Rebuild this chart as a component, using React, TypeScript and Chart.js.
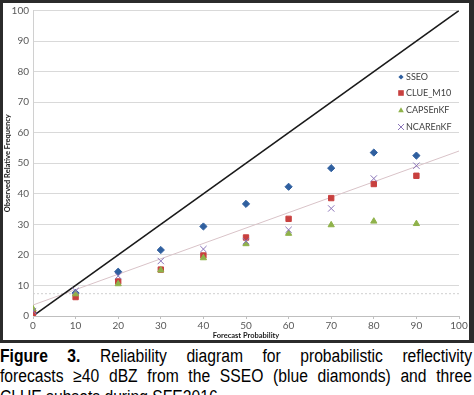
import React, { useEffect, useRef } from "react";
import { Chart, registerables } from "chart.js";

Chart.register(...registerables);

const probs = [0, 10, 20, 30, 40, 50, 60, 70, 80, 90];
const sseo = [1.0, 7.5, 14.5, 21.6, 29.3, 36.7, 42.3, 48.4, 53.5, 52.5];
const clueM10 = [1.0, 6.2, 11.3, 15.2, 19.8, 25.7, 31.8, 38.6, 43.2, 45.9];
const capsEnKF = [2.3, 7.2, 10.5, 15.0, 19.0, 23.6, 27.0, 29.8, 31.0, 30.2];
const ncarEnKF = [1.6, 8.2, 13.1, 18.0, 21.9, 24.5, 28.2, 35.2, 45.0, 49.2];
const diagX = [0, 100];
const diagY = [0, 100];
const trendX = [0, 100];
const trendY = [3.6, 54.0];
const climoY = 7.3;
const ticks = [0, 10, 20, 30, 40, 50, 60, 70, 80, 90, 100];

const seriesNames = ["SSEO", "CLUE_M10", "CAPSEnKF", "NCAREnKF"];
const captionLine1 = ["Figure", "3.", "Reliability", "diagram", "for", "probabilistic", "reflectivity"];
const captionLine2 = ["forecasts", "≥40", "dBZ", "from", "the", "SSEO", "(blue", "diamonds)", "and", "three"];
const captionLine3 = "CLUE subsets during SFE2016.";

const toPts = (xs: number[], ys: number[]) => xs.map((x, i) => ({ x, y: ys[i] }));

const legendPlugin = {
  id: "insideLegend",
  afterDraw(chart: any) {
    const ctx = chart.ctx;
    const x0 = 398;
    const rows = [74, 90, 107, 124];
    ctx.save();
    ctx.font = "9px Lato";
    ctx.textBaseline = "middle";
    [0, 1, 2, 3].forEach((di, i) => {
      const ds = chart.data.datasets[di];
      const y = rows[i];
      ctx.save();
      ctx.fillStyle = ds.backgroundColor;
      ctx.strokeStyle = ds.borderColor;
      ctx.lineWidth = 1;
      const r = 2.6;
      if (ds.pointStyle === "rectRot") {
        ctx.beginPath();
        ctx.moveTo(x0, y - r);
        ctx.lineTo(x0 + r, y);
        ctx.lineTo(x0, y + r);
        ctx.lineTo(x0 - r, y);
        ctx.closePath();
        ctx.fill();
      } else if (ds.pointStyle === "rect") {
        ctx.fillRect(x0 - 2.8, y - 2.8, 5.6, 5.6);
      } else if (ds.pointStyle === "triangle") {
        ctx.beginPath();
        ctx.moveTo(x0, y - 2.8);
        ctx.lineTo(x0 + 2.8, y + 2.2);
        ctx.lineTo(x0 - 2.8, y + 2.2);
        ctx.closePath();
        ctx.fill();
      } else {
        ctx.beginPath();
        ctx.moveTo(x0 - 3, y - 3);
        ctx.lineTo(x0 + 3, y + 3);
        ctx.moveTo(x0 + 3, y - 3);
        ctx.lineTo(x0 - 3, y + 3);
        ctx.stroke();
      }
      ctx.restore();
      ctx.fillStyle = "#404040";
      ctx.fillText(seriesNames[i], x0 + 5, y + 0.5);
    });
    ctx.restore();
  },
};

export default function App() {
  const ref = useRef<HTMLCanvasElement>(null);
  useEffect(() => {
    if (!ref.current) return;
    const chart = new Chart(ref.current, {
      type: "scatter",
      data: {
        datasets: [
          {
            label: "SSEO",
            data: toPts(probs, sseo),
            pointStyle: "rectRot",
            pointRadius: 3.6,
            backgroundColor: "#2f5f9f",
            borderColor: "#2f5f9f",
            borderWidth: 1,
            order: 4,
          },
          {
            label: "CLUE_M10",
            data: toPts(probs, clueM10),
            pointStyle: "rect",
            pointRadius: 3.8,
            backgroundColor: "#c8403f",
            borderColor: "#c8403f",
            borderWidth: 1,
            order: 3,
          },
          {
            label: "CAPSEnKF",
            data: toPts(probs, capsEnKF),
            pointStyle: "triangle",
            pointRadius: 3.6,
            backgroundColor: "#8fb24a",
            borderColor: "#8fb24a",
            borderWidth: 1,
            order: 2,
          },
          {
            label: "NCAREnKF",
            data: toPts(probs, ncarEnKF),
            pointStyle: "crossRot",
            pointRadius: 4.5,
            backgroundColor: "#8a74b8",
            borderColor: "#8a74b8",
            borderWidth: 1,
            order: 1,
          },
          {
            label: "trend",
            type: "line",
            data: toPts(trendX, trendY),
            borderColor: "#d9c3c8",
            borderWidth: 1,
            pointRadius: 0,
            showLine: true,
            order: 6,
          },
          {
            label: "climo",
            type: "line",
            data: toPts(diagX, [climoY, climoY]),
            borderColor: "#cfcfcf",
            borderWidth: 1,
            borderDash: [2, 2],
            pointRadius: 0,
            showLine: true,
            order: 7,
          },
          {
            label: "perfect",
            type: "line",
            data: toPts(diagX, diagY),
            borderColor: "#1a1a1a",
            borderWidth: 1.5,
            pointRadius: 0,
            showLine: true,
            order: 5,
          },
        ],
      } as any,
      options: {
        animation: false,
        responsive: false,
        maintainAspectRatio: false,
        layout: { padding: { top: 0, right: 10, left: 0, bottom: 0 } },
        plugins: { legend: { display: false }, tooltip: { enabled: false } },
        scales: {
          x: {
            type: "linear",
            min: 0,
            max: 100,
            afterBuildTicks: (s: any) => {
              s.ticks = ticks.map((v) => ({ value: v }));
            },
            afterFit: (s: any) => {
              s.height = 24;
            },
            grid: {
              display: true,
              drawOnChartArea: false,
              drawTicks: true,
              tickLength: 3,
              color: "#bfbfbf",
            },
            border: { color: "#bfbfbf" },
            ticks: {
              color: "#595959",
              font: { family: "Lato", size: 10 },
              padding: 1,
              maxRotation: 0,
            },
            title: {
              display: true,
              text: "Forecast Probability",
              color: "#1a1a1a",
              font: { family: "Lato", size: 7.5, weight: "bold" },
              padding: { top: -2, bottom: 0 },
            },
          },
          y: {
            type: "linear",
            min: 0,
            max: 100,
            afterBuildTicks: (s: any) => {
              s.ticks = ticks.map((v) => ({ value: v }));
            },
            afterFit: (s: any) => {
              s.width = 30;
              s.paddingTop = 7.5;
              s.paddingBottom = 0;
            },
            grid: {
              color: "#d9d9d9",
              drawTicks: false,
            },
            border: { color: "#d0d0d0" },
            ticks: {
              color: "#595959",
              font: { family: "Lato", size: 10 },
              padding: 4,
            },
            title: {
              display: true,
              text: "Observed Relative Frequency",
              color: "#1a1a1a",
              font: { family: "Lato", size: 7.5, weight: "bold" },
              padding: 0,
            },
          },
        },
      } as any,
      plugins: [legendPlugin],
    });
    return () => chart.destroy();
  }, []);

  const scale = 0.87;
  const lineStyle: React.CSSProperties = {
    display: "flex",
    justifyContent: "space-between",
    whiteSpace: "nowrap",
    height: 20.5,
  };

  return (
    <div
      style={{
        position: "absolute",
        left: 0,
        top: 0,
        width: 474,
        height: 395,
        overflow: "hidden",
        background: "#fff",
      }}
    >
      <div
        style={{
          position: "absolute",
          left: 0,
          top: 0,
          width: 474,
          height: 343,
          boxSizing: "border-box",
          borderStyle: "solid",
          borderColor: "#2b2b2b",
          borderWidth: "3px 5px 3px 3px",
          background: "#fff",
        }}
      >
        <canvas ref={ref} width={466} height={337} style={{ display: "block" }} />
      </div>
      <div
        style={{
          position: "absolute",
          left: 0,
          top: 345.5,
          width: 472 / scale,
          transform: `scaleX(${scale})`,
          transformOrigin: "0 0",
          fontFamily: "'Liberation Sans', Arial, sans-serif",
          fontSize: 18,
          lineHeight: "20.5px",
          color: "#000",
        }}
      >
        <div style={lineStyle}>
          {captionLine1.map((w, i) =>
            i < 2 ? <b key={i}>{w}</b> : <span key={i}>{w}</span>
          )}
        </div>
        <div style={lineStyle}>
          {captionLine2.map((w, i) => (
            <span key={i}>{w}</span>
          ))}
        </div>
        <div style={{ height: 20.5, whiteSpace: "nowrap" }}>{captionLine3}</div>
      </div>
    </div>
  );
}
